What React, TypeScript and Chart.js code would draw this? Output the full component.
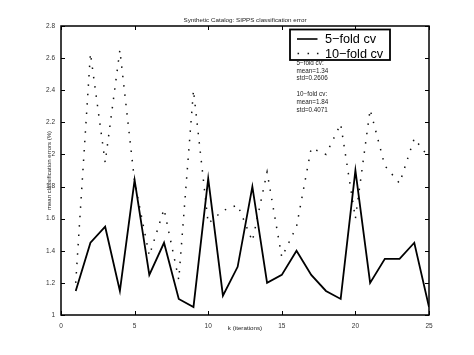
import React, { useEffect, useRef } from "react";
import { Chart, registerables } from "chart.js";

Chart.register(...registerables);

const iterations = [1, 2, 3, 4, 5, 6, 7, 8, 9, 10, 11, 12, 13, 14, 15, 16, 17, 18, 19, 20, 21, 22, 23, 24, 25];
const fold5 = [1.15, 1.45, 1.55, 1.15, 1.84, 1.25, 1.45, 1.1, 1.05, 1.85, 1.12, 1.3, 1.8, 1.2, 1.25, 1.4, 1.25, 1.15, 1.1, 1.9, 1.2, 1.35, 1.35, 1.45, 1.05];
const fold10 = [1.2, 2.63, 1.95, 2.65, 1.83, 1.37, 1.66, 1.22, 2.4, 1.57, 1.65, 1.685, 1.46, 1.89, 1.36, 1.55, 2.04, 2.0, 2.19, 1.6, 2.28, 1.93, 1.82, 2.1, 1.98];
const xTicks = [0, 5, 10, 15, 20, 25];
const yTicks = [1, 1.2, 1.4, 1.6, 1.8, 2, 2.2, 2.4, 2.6, 2.8];
const seriesLabels = ["5\u2212fold cv", "10\u2212fold cv"];
const statsLines = ["5\u2212fold cv:", "mean=1.34", "std=0.2606", "", "10\u2212fold cv:", "mean=1.84", "std=0.4071"];
const statsAnchor = [16, 2.57];
const titleText = "Synthetic Catalog: SIPPS classification error";
const xLabel = "k (iterations)";
const yLabel = "mean classification errors (%)";

const FONT = "'Liberation Sans', Arial, Helvetica, sans-serif";

const decorPlugin = {
  id: "decor",
  afterDatasetsDraw(chart: any) {
    const { ctx, chartArea: a, scales } = chart;
    const xs = scales.x;
    const ys = scales.y;
    ctx.save();
    // frame
    ctx.strokeStyle = "#000";
    ctx.lineWidth = 1.5;
    ctx.strokeRect(a.left, a.top, a.right - a.left, a.bottom - a.top);
    // inward ticks
    ctx.lineWidth = 1;
    const tl = 4;
    ctx.beginPath();
    xTicks.forEach((v) => {
      const px = Math.round(xs.getPixelForValue(v)) + 0.5;
      ctx.moveTo(px, a.bottom);
      ctx.lineTo(px, a.bottom - tl);
      ctx.moveTo(px, a.top);
      ctx.lineTo(px, a.top + tl);
    });
    yTicks.forEach((v) => {
      const py = Math.round(ys.getPixelForValue(v)) + 0.5;
      ctx.moveTo(a.left, py);
      ctx.lineTo(a.left + tl, py);
      ctx.moveTo(a.right, py);
      ctx.lineTo(a.right - tl, py);
    });
    ctx.stroke();

    // title
    ctx.fillStyle = "#222";
    ctx.textAlign = "center";
    ctx.textBaseline = "middle";
    ctx.font = `6.25px ${FONT}`;
    ctx.fillText(titleText, (a.left + a.right) / 2, 20.5);
    // x label
    ctx.font = `6.25px ${FONT}`;
    ctx.fillText(xLabel, (a.left + a.right) / 2, a.bottom + 13);
    // y label
    ctx.save();
    ctx.translate(a.left - 12, (a.top + a.bottom) / 2);
    ctx.rotate(-Math.PI / 2);
    ctx.font = `6px ${FONT}`;
    ctx.fillText(yLabel, 0, 0);
    ctx.restore();

    // legend
    const bx = a.right - 39;
    const bw = 100;
    const by = a.top + 3.5;
    const bh = 30.5;
    ctx.fillStyle = "#fff";
    ctx.fillRect(bx - bw, by, bw, bh);
    ctx.strokeStyle = "#000";
    ctx.lineWidth = 1.8;
    ctx.strokeRect(bx - bw, by, bw, bh);
    const left = bx - bw;
    const rows = [by + 9.5, by + 24];
    ctx.lineWidth = 1.6;
    ctx.beginPath();
    ctx.moveTo(left + 7, rows[0]);
    ctx.lineTo(left + 27.5, rows[0]);
    ctx.stroke();
    ctx.fillStyle = "#111";
    [8.3, 18.3, 27.7].forEach((dx) => {
      ctx.fillRect(left + dx - 0.75, rows[1] - 0.75, 1.5, 1.5);
    });
    ctx.fillStyle = "#000";
    ctx.textAlign = "left";
    ctx.font = `12.7px ${FONT}`;
    ctx.fillText(chart.data.datasets[0].label, left + 35, rows[0] + 0.5);
    ctx.fillText(chart.data.datasets[1].label, left + 35, rows[1] + 0.5);

    // stats annotation
    ctx.font = `6.3px ${FONT}`;
    ctx.fillStyle = "#222";
    const sx = xs.getPixelForValue(statsAnchor[0]);
    const sy = ys.getPixelForValue(statsAnchor[1]);
    statsLines.forEach((t, i) => {
      if (t) ctx.fillText(t, sx, sy + i * 7.9);
    });
    ctx.restore();
  },
};

export default function App() {
  const ref = useRef<HTMLCanvasElement | null>(null);
  useEffect(() => {
    document.body.style.margin = "0";
    const canvas = ref.current;
    if (!canvas) return;
    const chart = new Chart(canvas, {
      type: "line",
      data: {
        labels: iterations,
        datasets: [
          {
            label: seriesLabels[0],
            data: iterations.map((k, i) => ({ x: k, y: fold5[i] })),
            borderColor: "#000",
            borderWidth: 1.8,
            pointRadius: 0,
            tension: 0,
            fill: false,
          },
          {
            label: seriesLabels[1],
            data: iterations.map((k, i) => ({ x: k, y: fold10[i] })),
            borderColor: "#111",
            borderWidth: 1.5,
            borderDash: [1.5, 7.9],
            borderCapStyle: "butt",
            pointRadius: 0,
            tension: 0,
            fill: false,
          },
        ],
      },
      options: {
        responsive: false,
        animation: false,
        events: [],
        layout: { padding: { left: 0, right: 45, top: 26, bottom: 0 } },
        plugins: {
          legend: { display: false },
          title: { display: false },
          tooltip: { enabled: false },
        },
        scales: {
          x: {
            type: "linear",
            min: 0,
            max: 25,
            grid: { display: false, drawTicks: false },
            border: { display: false },
            afterBuildTicks: (s: any) => {
              s.ticks = xTicks.map((v) => ({ value: v }));
            },
            afterFit: (s: any) => {
              s.height = 40;
            },
            ticks: {
              padding: 7,
              maxRotation: 0,
              autoSkip: false,
              color: "#333",
              font: { family: FONT, size: 6.5 },
              callback: (v: any) => String(Math.round(Number(v) * 10) / 10),
            },
          },
          y: {
            type: "linear",
            min: 1,
            max: 2.8,
            grid: { display: false, drawTicks: false },
            border: { display: false },
            afterBuildTicks: (s: any) => {
              s.ticks = yTicks.map((v) => ({ value: v }));
            },
            afterFit: (s: any) => {
              s.width = 61;
            },
            ticks: {
              padding: 6,
              autoSkip: false,
              color: "#333",
              font: { family: FONT, size: 6.5 },
              callback: (v: any) => String(Math.round(Number(v) * 10) / 10),
            },
          },
        },
      },
      plugins: [decorPlugin],
    } as any);
    return () => chart.destroy();
  }, []);
  return (
    <div style={{ position: "fixed", left: 0, top: 0, width: 474, height: 355, background: "#fff" }}>
      <canvas ref={ref} width={474} height={355} style={{ width: 474, height: 355, display: "block" }} />
    </div>
  );
}
